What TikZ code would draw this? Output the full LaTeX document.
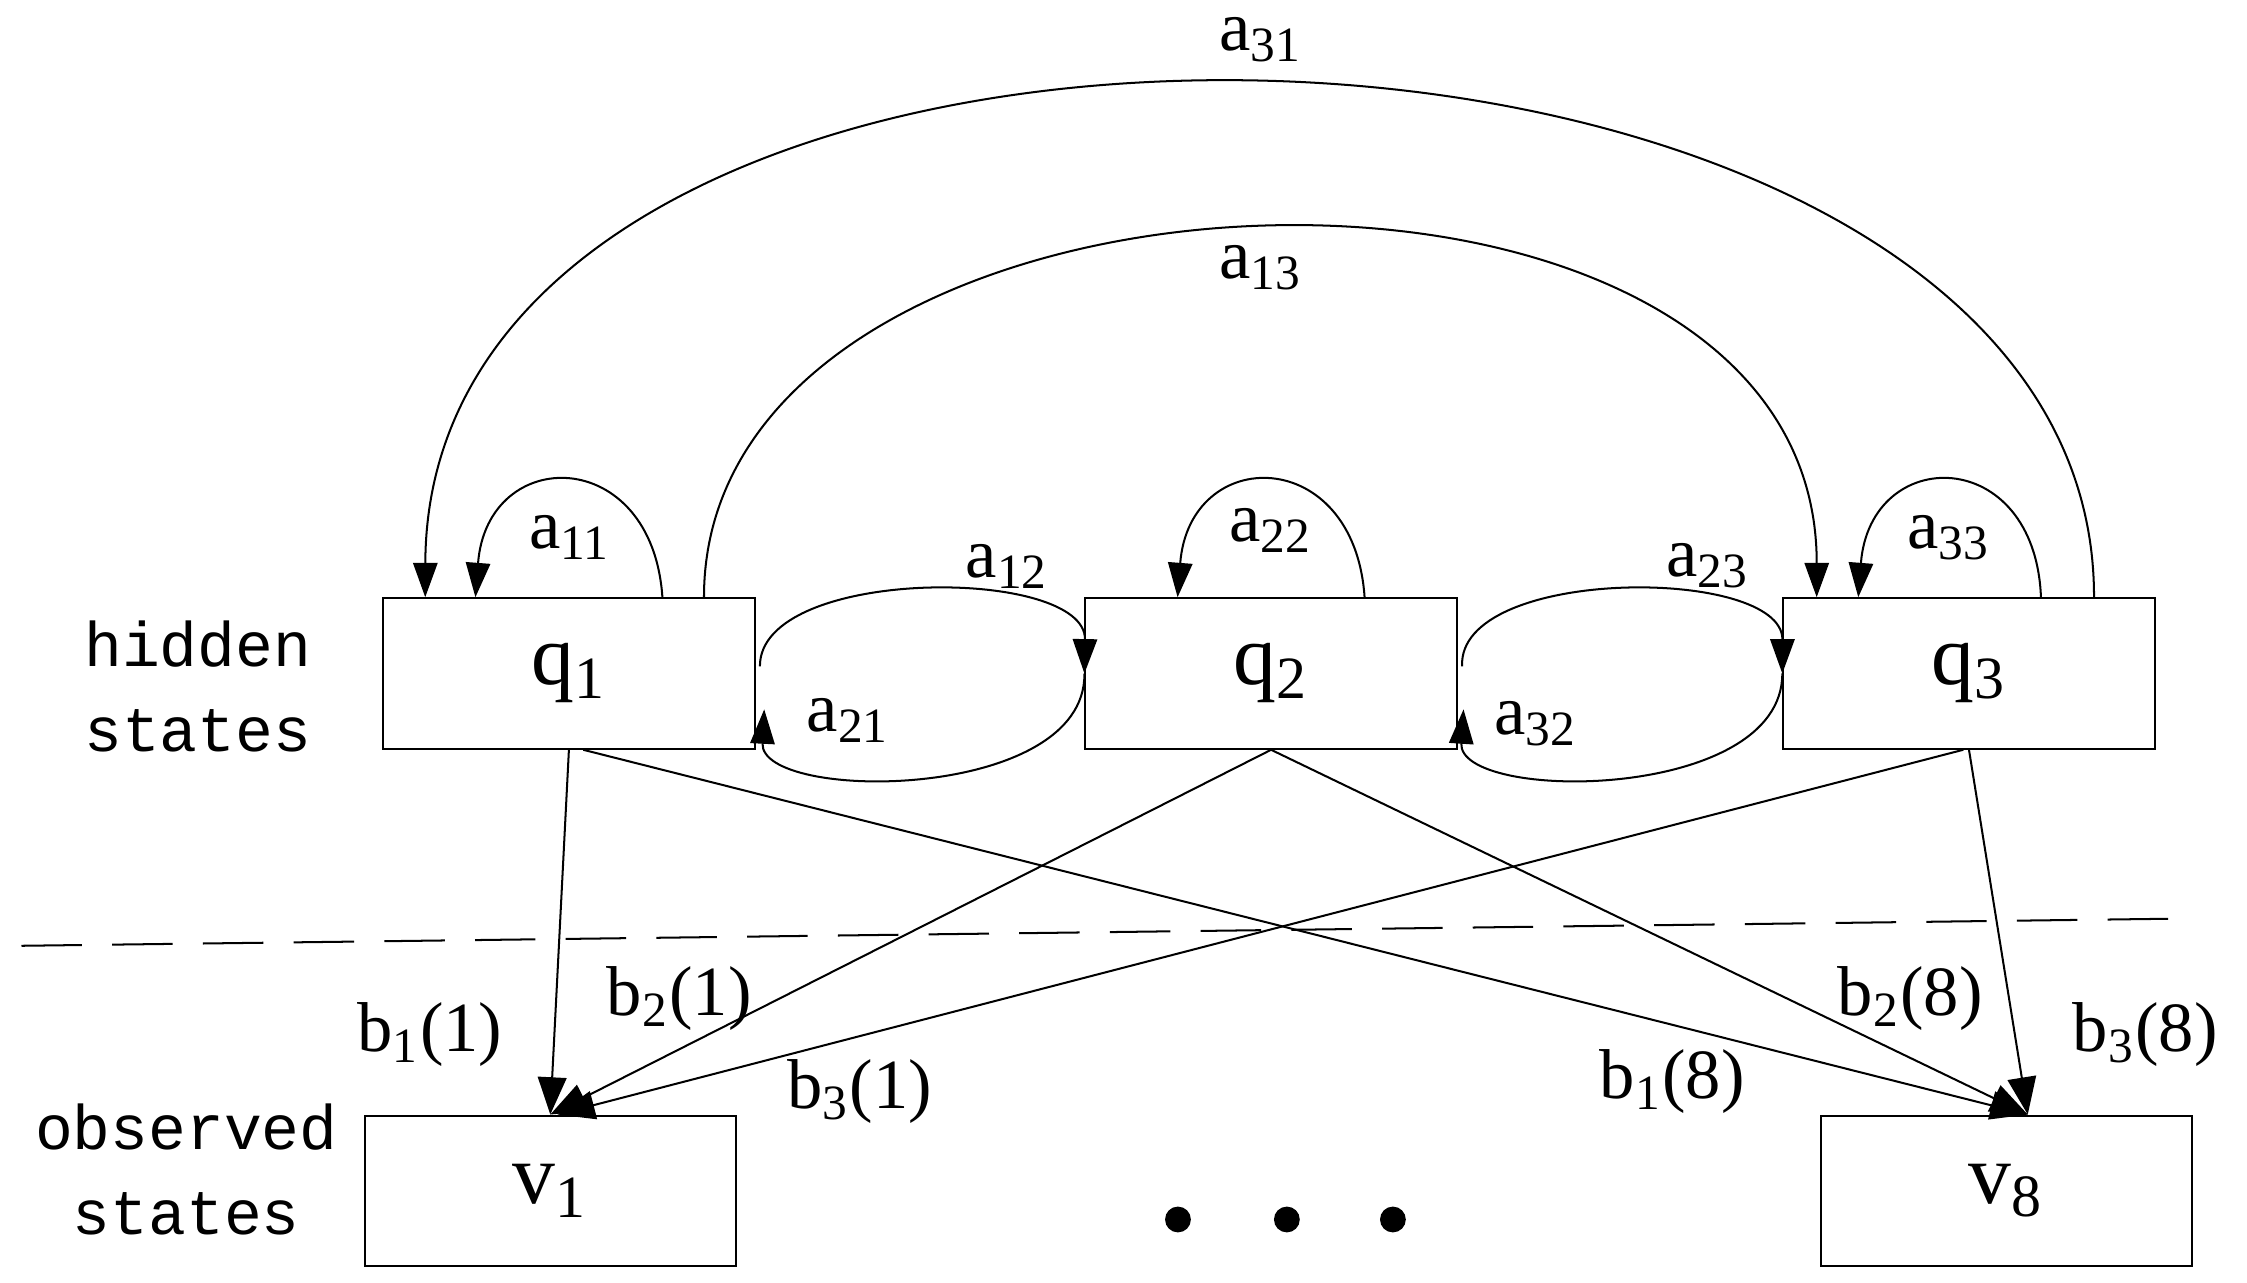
\documentclass[tikz,border=0pt]{standalone}
\usepackage{fontspec}
\setmainfont{Liberation Serif}
\newfontfamily\monofont{Liberation Mono}
\usetikzlibrary{arrows.meta}
\begin{document}
\begin{tikzpicture}[x=0.01cm,y=-0.01cm,
  every node/.style={font=\fontsize{14}{16}\selectfont},
  state/.style={draw,minimum width=2.59cm,minimum height=1.05cm,font=\fontsize{17}{19}\selectfont},
  side/.style={font=\monofont\fontsize{12.5}{17}\selectfont,align=center},
  tr/.style={-{Triangle[length=0.24cm,width=0.17cm]},thin},
  em/.style={-{Triangle[length=0.26cm,width=0.2cm]},thin}]

\useasboundingbox (0,0) rectangle (1568,895);

% Hidden and observed states
\node[state] (q1) at (397,470) {q\textsubscript{1}};
\node[state] (q2) at (887,470) {q\textsubscript{2}};
\node[state] (q3) at (1374,470) {q\textsubscript{3}};
\node[state] (v1) at (384,831) {v\textsubscript{1}};
\node[state] (v8) at (1400,831) {v\textsubscript{8}};

\node[side] (hid) at (138,479) {hidden\\states};
\node[side] (obs) at (130,816) {observed\\states};

% Separator
\coordinate (dl) at (15,660);
\coordinate (dr) at (1525,641);
\draw[dashed,dash pattern=on 12pt off 6pt] (dl) -- (dr);

% Self loops
\draw[tr] ([xshift=-0.65cm]q1.north east) .. controls (455,310) and (340,310) .. ([xshift=0.65cm]q1.north west);
\draw[tr] ([xshift=-0.65cm]q2.north east) .. controls (945,310) and (830,310) .. ([xshift=0.65cm]q2.north west);
\draw[tr] ([xshift=-0.8cm]q3.north east) .. controls (1420,310) and (1305,310) .. ([xshift=0.53cm]q3.north west);
\node (a11) at (398,375) {a\textsubscript{11}};
\node (a22) at (887,370) {a\textsubscript{22}};
\node (a33) at (1360,375) {a\textsubscript{33}};

% Long arcs
\draw[tr] ([xshift=-0.36cm]q1.north east) .. controls (491,90) and (1268,60) .. ([xshift=0.24cm]q3.north west);
\draw[tr] ([xshift=-0.43cm]q3.north east) .. controls (1462,-45) and (298,-75) .. ([xshift=0.3cm]q1.north west);
\node (a13) at (880,187) {a\textsubscript{13}};
\node (a31) at (880,28) {a\textsubscript{31}};

% Neighbour transitions
\draw[tr] ([xshift=0.03cm,yshift=0.05cm]q1.east) .. controls (530,395) and (758,395) .. (q2.west);
\draw[tr] (q2.west) .. controls (758,560) and (530,560) .. ([xshift=0.06cm,yshift=-0.25cm]q1.east);
\draw[tr] ([xshift=0.03cm,yshift=0.05cm]q2.east) .. controls (1017,395) and (1244,395) .. (q3.west);
\draw[tr] (q3.west) .. controls (1244,560) and (1017,560) .. ([xshift=0.04cm,yshift=-0.25cm]q2.east);
\node (a12) at (703,395) {a\textsubscript{12}};
\node (a21) at (592,503) {a\textsubscript{21}};
\node (a23) at (1192,395) {a\textsubscript{23}};
\node (a32) at (1072,505) {a\textsubscript{32}};

% Emissions
\draw[em] (q1.south) -- (v1.north);
\draw[em] ([xshift=0.1cm]q1.south) -- ([xshift=0.15cm]v8.north);
\draw[em] (q2.south) -- (v1.north);
\draw[em] (q2.south) -- ([xshift=0.15cm]v8.north);
\draw[em] ([xshift=-0.04cm]q3.south) -- ([xshift=0.05cm]v1.north);
\draw[em] (q3.south) -- ([xshift=0.15cm]v8.north);
\node (b11) at (300,722) {b\textsubscript{1}(1)};
\node (b21) at (474,697) {b\textsubscript{2}(1)};
\node (b31) at (600,762) {b\textsubscript{3}(1)};
\node (b18) at (1167,755) {b\textsubscript{1}(8)};
\node (b28) at (1333,697) {b\textsubscript{2}(8)};
\node (b38) at (1497,722) {b\textsubscript{3}(8)};

% Ellipsis
\foreach \x in {822,898,972}
  \fill (\x,851) circle (0.09cm);

\end{tikzpicture}
\end{document}
